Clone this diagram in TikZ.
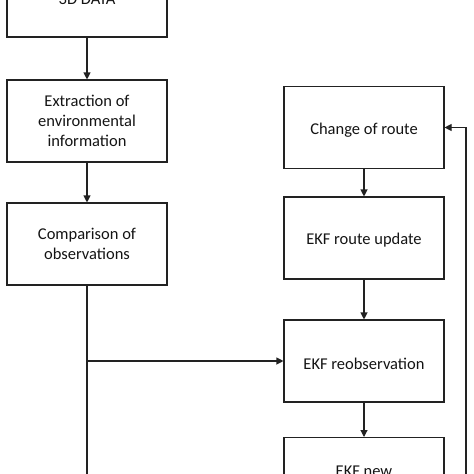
\documentclass[tikz,border=0pt]{standalone}
\usepackage{fontspec}
\setmainfont{Carlito}
\usetikzlibrary{arrows.meta}
\definecolor{linecol}{HTML}{222222}
\definecolor{textcol}{HTML}{141414}
\tikzset{
  box/.style={draw=linecol, line width=1.1pt, minimum width=160pt, minimum height=82pt,
    inner sep=0pt, align=center, text=textcol, font=\fontsize{16.5}{20}\selectfont,
    execute at begin node={\rule{0pt}{\dimexpr\fontcharht\font`h+5pt\relax}}},
  conn/.style={draw=linecol, line width=1.1pt},
  arr/.style={conn, -{Triangle[length=7pt,width=7pt]}}
}
\begin{document}
\begin{tikzpicture}
\useasboundingbox (0pt,0pt) rectangle (474pt,-474pt);
% left column
\node[box, minimum height=81pt] (data) at (87pt,3.5pt) {3D DATA};
\node[box] (extr) at (87pt,-121pt) {Extraction of\\environmental\\information};
\node[box] (comp) at (87pt,-244pt) {Comparison of\\observations};
% right column
\node[box] (change) at (364pt,-127.5pt) {Change of route};
\node[box] (upd) at (364pt,-238pt) {EKF route update};
\node[box] (reob) at (364pt,-361pt) {EKF reobservation};
\node[box, minimum height=62pt, anchor=north] (new) at (364pt,-437pt) {EKF new};
% free ends
\coordinate (lbot) at (87pt,-474pt);
\coordinate (junc) at (87pt,-361pt);
\coordinate (rbot) at (466pt,-474pt);
\coordinate (rtop) at (466pt,-127.5pt);
% connectors
\draw[arr] (data) -- (extr);
\draw[arr] (extr) -- (comp);
\draw[conn] (comp) -- (lbot);
\draw[arr] (junc) -- (reob.west);
\draw[arr] (change) -- (upd);
\draw[arr] (upd) -- (reob);
\draw[arr] (reob) -- (new);
\draw[arr] (rbot) -- (rtop) -- (change.east);
\end{tikzpicture}
\end{document}
